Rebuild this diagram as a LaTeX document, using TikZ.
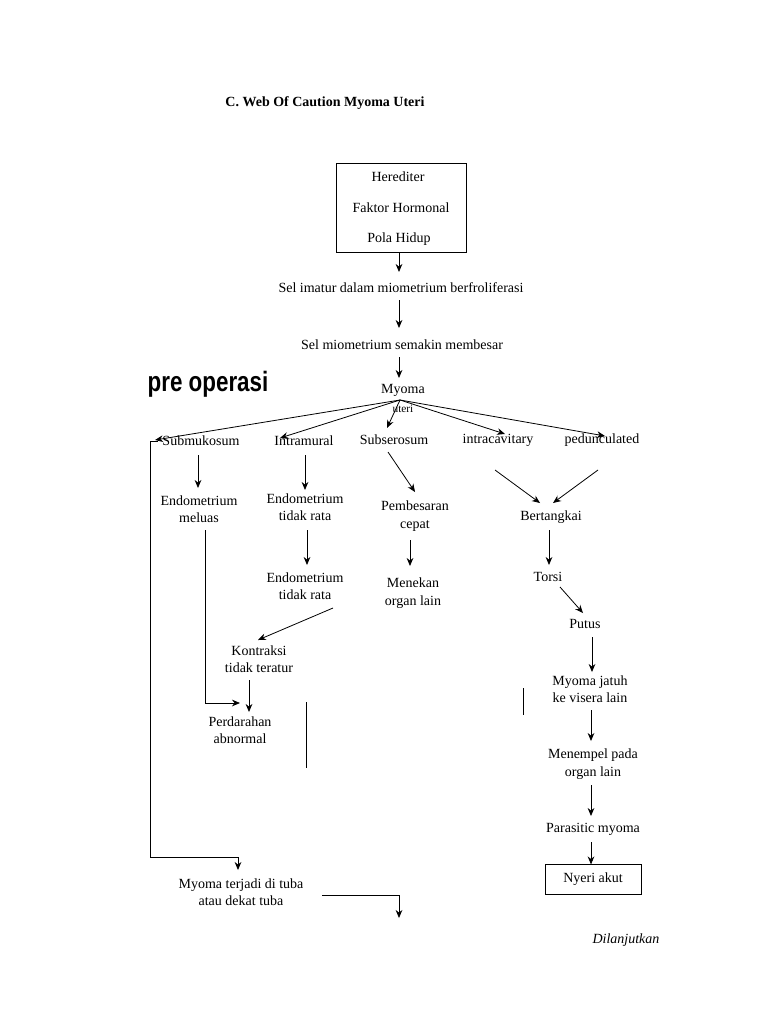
\documentclass[tikz,border=0pt]{standalone}
\usepackage{fontspec}
\setmainfont{Liberation Serif}
\newfontfamily\sansf{Liberation Sans}[FakeStretch=0.8]
\usetikzlibrary{arrows.meta}
\begin{document}
\begin{tikzpicture}[x=0.75pt,y=-0.75pt,
  t/.style={font=\fontsize{10.5}{13}\selectfont,align=center,inner sep=1pt},
  a/.style={-{Stealth[length=6pt,width=5pt]},line width=0.6pt},
  l/.style={line width=0.6pt}]
\useasboundingbox (0,0) rectangle (768,1024);
\node[font=\bfseries\fontsize{10.5}{13}\selectfont] (title) at (325,103) {C. Web Of Caution Myoma Uteri};
\node[draw,l,minimum width=98pt,minimum height=67pt] (box) at (401.5,208) {};
\node[t] (h1) at (398,177) {Herediter};
\node[t] (h2) at (401,208) {Faktor Hormonal};
\node[t] (h3) at (399,239) {Pola Hidup};
\coordinate (b1) at (399,253);
\node[t] (s1) at (401,288) {Sel imatur dalam miometrium berfroliferasi};
\draw[a] (b1) -- (399,272);
\coordinate (s1b) at (399,300);
\node[t] (s2) at (402,345) {Sel miometrium semakin membesar};
\draw[a] (s1b) -- (399,328);
\coordinate (s2b) at (399,357);
\draw[a] (s2b) -- (399,378);
\node[font=\sansf\bfseries\fontsize{21}{22}\selectfont] (pre) at (208,384) {pre operasi};
\node[t] (my) at (403,390) {Myoma};
\node[t,font=\fontsize{8.5}{10}\selectfont] (ut) at (403,409) {uteri};
\coordinate (hub) at (400,400);
\node[t] (sub) at (201,441) {Submukosum};
\node[t] (intra) at (304,441) {Intramural};
\node[t] (ser) at (394,440) {Subserosum};
\node[t] (cav) at (498,440) {intracavitary};
\node[t] (ped) at (602,440) {pedunculated};
\draw[a] (hub) -- (155,440);
\draw[a] (hub) -- (280,438);
\draw[a] (hub) -- (387,428);
\draw[a] (hub) -- (505,434);
\draw[a] (hub) -- (605,436);
\coordinate (m1) at (238,870);
\draw[a] (158,441) -- (150,441) -- (150,857) -- (238,857) -- (m1);
\node[t] (myt) at (241,892) {Myoma terjadi di tuba\\atau dekat tuba};
\coordinate (cont) at (399,918);
\draw[a] (322,895) -- (399,895) -- (cont);
\node[t] (em) at (199,509) {Endometrium\\meluas};
\draw[a] (198,455) -- (198,488);
\node[t] (perd) at (240,730) {Perdarahan\\abnormal};
\draw[a] (205,530) -- (205,703) -- (240,703);
\node[t] (et1) at (305,507) {Endometrium\\tidak rata};
\draw[a] (305,455) -- (305,490);
\node[t] (et2) at (305,586) {Endometrium\\tidak rata};
\draw[a] (307,530) -- (307,565);
\node[t] (kon) at (259,659) {Kontraksi\\tidak teratur};
\draw[a] (333,608) -- (258,640);
\draw[a] (249,680) -- (249,712);
\draw[l] (306,702) -- (306,768);
\draw[l] (523,688) -- (523,715);
\node[t] (pem) at (415,516) {Pembesaran\\cepat};
\draw[a] (388,452) -- (415,492);
\node[t] (men) at (413,593) {Menekan\\organ lain};
\draw[a] (410,540) -- (410,566);
\node[t] (ber) at (551,517) {Bertangkai};
\draw[a] (495,470) -- (540,503);
\draw[a] (598,470) -- (553,503);
\node[t] (tor) at (548,577) {Torsi};
\draw[a] (549,530) -- (549,565);
\node[t] (put) at (585,624) {Putus};
\draw[a] (560,587) -- (583,613);
\node[t] (mj) at (590,689) {Myoma jatuh\\ke visera lain};
\draw[a] (592,637) -- (592,672);
\node[t] (mp) at (593,764) {Menempel pada\\organ lain};
\draw[a] (591,710) -- (591,741);
\node[t] (par) at (593,829) {Parasitic myoma};
\draw[a] (591,785) -- (591,816);
\node[draw,l,minimum width=72pt,minimum height=22pt,t] (ny) at (593,879.5) {Nyeri akut};
\draw[a] (591,842) -- (ny.north -| 591,0);
\node[t,font=\itshape\fontsize{10.5}{13}\selectfont] (dil) at (626,940) {Dilanjutkan};
\end{tikzpicture}
\end{document}
